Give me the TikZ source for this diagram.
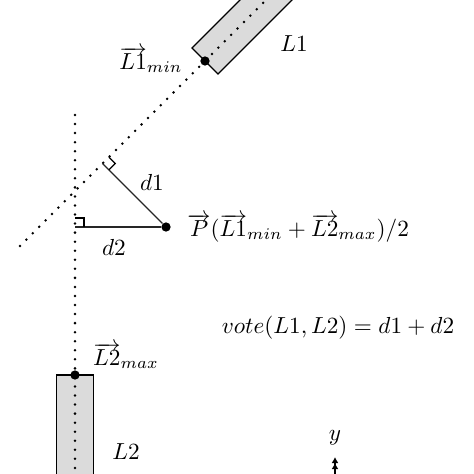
\documentclass[tikz,border=0pt]{standalone}
\usetikzlibrary{arrows.meta}
\begin{document}
\begin{tikzpicture}[x=0.431pt,y=-0.431pt,
  axisdots/.style={line width=1.2pt,line cap=round,dash pattern=on 0pt off 3.9pt},
  segbox/.style={draw=black,line width=0.5pt,fill=black!14},
  endpt/.style={circle,fill=black,inner sep=0pt,minimum size=4pt},
  rmark/.style={line width=0.5pt},
  perp/.style={line width=0.55pt,draw=black!85}]
\useasboundingbox (0,0) rectangle (474,474);
\begin{scope}
\clip (0,0) rectangle (474,474);
% segment boxes
\draw[segbox] (192,48) -- (292,-52) -- (318,-26) -- (218,74) -- cycle;
\draw[segbox] (56.5,375) rectangle (93.5,490);
% dotted lines
\coordinate (l1a) at (20,246);
\coordinate (l1b) at (280,-14);
\coordinate (l2a) at (75,115);
\coordinate (l2b) at (75,480);
\draw[axisdots] (l1a) -- (l1b);
\draw[axisdots] (l2a) -- (l2b);
\end{scope}
% end points
\node[endpt] (L1min) at (205,61) {};
\node[endpt] (L2max) at (75,375) {};
\node[endpt] (P) at (166,227) {};
% feet of perpendiculars
\coordinate (f1) at (102.5,163.5);
\coordinate (f2) at (75,227);
\draw[perp] (P) -- (f1);
\draw[perp] (P) -- (f2);
% right-angle marks
\coordinate (m1a) at (108.9,157.1);
\coordinate (m1b) at (115.3,163.5);
\coordinate (m1c) at (108.9,169.9);
\draw[rmark] (m1a) -- (m1b) -- (m1c);
\coordinate (m2a) at (75,218);
\coordinate (m2b) at (84,218);
\coordinate (m2c) at (84,227);
\draw[rmark] (m2a) -- (m2b) -- (m2c);
% labels
\node (tL1) at (294,44) {$L1$};
\node (tL1min) at (151,60) {$\overrightarrow{L1}_{min}$};
\node (td1) at (152,182) {$d1$};
\node (td2) at (114,247) {$d2$};
\node[anchor=west,inner sep=0pt] (tP) at (187,228) {$\overrightarrow{P}(\overrightarrow{L1}_{min}+\overrightarrow{L2}_{max})/2$};
\node (tvote) at (338,328) {$vote(L1,L2)=d1+d2$};
\node (tL2max) at (126,356) {$\overrightarrow{L2}_{max}$};
\node (tL2) at (126,452) {$L2$};
\node (ty) at (335,438) {$y$};
\coordinate (yb) at (335,476);
\coordinate (yt) at (335,457);
\draw[line width=0.5pt,-{Latex[length=2.6pt,width=3pt]Latex[length=2.6pt,width=3pt]}] (yb) -- (yt);
\end{tikzpicture}
\end{document}
